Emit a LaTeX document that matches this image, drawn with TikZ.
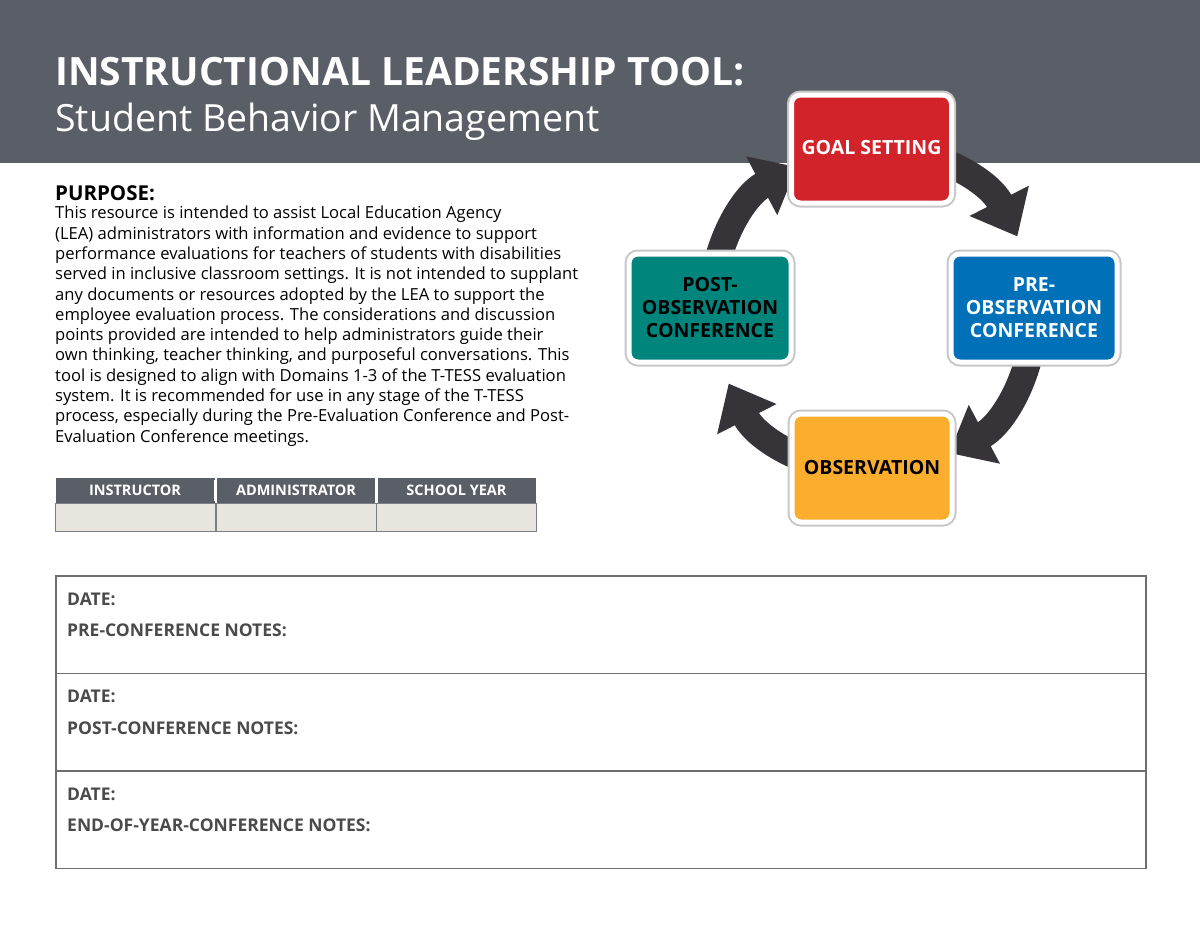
\documentclass[tikz,border=0pt]{standalone}
\usepackage{fontspec}
\setmainfont{Open Sans}
\usetikzlibrary{arrows.meta}
\definecolor{band}{HTML}{5A5F67}
\definecolor{ring}{HTML}{363438}
\definecolor{goalc}{HTML}{D2232A}
\definecolor{prec}{HTML}{0070B8}
\definecolor{obsc}{HTML}{FBAE2D}
\definecolor{postc}{HTML}{00857D}
\definecolor{cellc}{HTML}{E8E4DE}
\definecolor{notec}{HTML}{4A4A4A}
\begin{document}
\begin{tikzpicture}[x=1pt,y=-1pt,
  stage/.style={draw=white,line width=5pt,rounded corners=9pt,minimum width=160pt,minimum height=108pt,align=center,font=\fontsize{19.5}{23}\selectfont\bfseries,inner sep=0pt,preaction={draw=black!22,line width=9pt}},
  ringarc/.style={ring,line width=27pt,-{Triangle[width=64pt,length=40pt]}},
  hdr/.style={fill=band,text=white,font=\fontsize{14.5}{16}\selectfont\bfseries,minimum height=25pt,inner sep=0pt},
  cell/.style={fill=cellc,draw=band!80,line width=1pt,minimum height=28pt,inner sep=0pt},
  notebox/.style={draw=notec!80,line width=1.6pt,minimum width=1090pt,minimum height=97.5pt,inner sep=0pt},
  notelbl/.style={anchor=base west,text=notec,font=\fontsize{17.5}{20}\selectfont\bfseries,inner sep=0pt}]
\useasboundingbox[fill=white] (0,0) rectangle (1200,927);
\fill[band] (0,0) rectangle (1200,163);
\node[anchor=base west,text=white,font=\fontsize{39}{44}\selectfont\bfseries,inner sep=0pt] (title) at (55,85) {INSTRUCTIONAL LEADERSHIP TOOL:};
\node[anchor=base west,text=white,font=\fontsize{37.5}{42}\selectfont,inner sep=0pt] (sub) at (55,131) {Student Behavior Management};
\node[anchor=base west,font=\fontsize{20.5}{24}\selectfont\bfseries,inner sep=0pt] (purp) at (55,200) {PURPOSE:};
\node[anchor=north west,align=left,font=\fontsize{16.6}{20.3}\selectfont,inner sep=0pt] (body) at (55,206) {This resource is intended to assist Local Education Agency\\
(LEA) administrators with information and evidence to support\\
performance evaluations for teachers of students with disabilities\\
served in inclusive classroom settings. It is not intended to supplant\\
any documents or resources adopted by the LEA to support the\\
employee evaluation process. The considerations and discussion\\
points provided are intended to help administrators guide their\\
own thinking, teacher thinking, and purposeful conversations. This\\
tool is designed to align with Domains 1-3 of the T-TESS evaluation\\
system. It is recommended for use in any stage of the T-TESS\\
process, especially during the Pre-Evaluation Conference and Post-\\
Evaluation Conference meetings.};
% table
\node[hdr,minimum width=159pt] (h1) at (135,490.5) {INSTRUCTOR};
\node[hdr,minimum width=158pt] (h2) at (296,490.5) {ADMINISTRATOR};
\node[hdr,minimum width=158pt] (h3) at (456.5,490.5) {SCHOOL YEAR};
\draw[white,line width=2.5pt] (215.5,480) -- (215.5,501) (376,480) -- (376,501);
\node[cell,minimum width=160pt] (c1) at (135.5,517) {};
\node[cell,minimum width=160pt] (c2) at (296,517) {};
\node[cell,minimum width=160pt] (c3) at (456,517) {};
% cycle
\coordinate (ctr) at (873,310);
\draw[ringarc] (ctr) ++(-95:162) arc[start angle=-95,end angle=-27,radius=162];
\draw[ringarc] (ctr) ++(-5:162) arc[start angle=-5,end angle=62,radius=162];
\draw[ringarc] (ctr) ++(85:162) arc[start angle=85,end angle=153,radius=162];
\draw[ringarc] (ctr) ++(175:162) arc[start angle=175,end angle=242,radius=162];
\node[stage,fill=goalc,text=white] (goal) at (871.5,149) {\raisebox{4pt}{GOAL SETTING}};
\node[stage,fill=prec,text=white,minimum width=166pt] (pre) at (1034,308) {PRE-\\OBSERVATION\\CONFERENCE};
\node[stage,fill=obsc,text=black] (obs) at (872,468) {OBSERVATION};
\node[stage,fill=postc,text=black,minimum width=162pt] (post) at (710,308) {POST-\\OBSERVATION\\CONFERENCE};
% notes
\node[notebox,anchor=north west] (n1) at (55,575) {};
\node[notebox,anchor=north west] (n2) at (55,672.5) {};
\node[notebox,anchor=north west] (n3) at (55,770) {};
\node[notelbl] (d1) at (67,605) {DATE:};
\node[notelbl] (l1) at (67,636) {PRE-CONFERENCE NOTES:};
\node[notelbl] (d2) at (67,702) {DATE:};
\node[notelbl] (l2) at (67,734) {POST-CONFERENCE NOTES:};
\node[notelbl] (d3) at (67,800) {DATE:};
\node[notelbl] (l3) at (67,831) {END-OF-YEAR-CONFERENCE NOTES:};
\end{tikzpicture}
\end{document}
